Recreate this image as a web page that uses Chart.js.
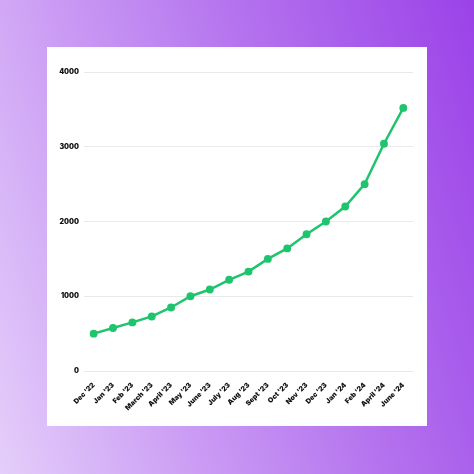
<!DOCTYPE html>
<html>
<head>
<meta charset="utf-8">
<script src="https://cdn.jsdelivr.net/npm/chart.js@4"></script>
<style>
html,body{margin:0;padding:0;width:474px;height:474px;overflow:hidden;}
body{background:linear-gradient(72deg,#e4cefa 0%,#cb9cf4 32%,#b472ee 62%,#9b42e8 100%);position:relative;}
#card{position:absolute;left:47px;top:47px;width:380px;height:379px;background:#fff;}
canvas{display:block;}
</style>
</head>
<body>
<div id="card"><canvas id="c" width="380" height="379"></canvas></div>
<script>
const categories = ["Dec '22","Jan '23","Feb '23","March '23","April '23","May '23","June '23","July '23","Aug '23","Sept '23","Oct '23","Nov '23","Dec '23","Jan '24","Feb '24","April '24","June '24"];
const values = [500,575,650,730,850,1000,1090,1220,1330,1500,1640,1830,2000,2200,2500,3040,3520];
const yTicks = [0,1000,2000,3000,4000];

const font = {family:'Inter', weight:'900', size:7};
new Chart(document.getElementById('c'), {
  type:'line',
  data:{labels:categories, datasets:[{data:values, borderColor:'#1fc46e', backgroundColor:'#1fc46e', borderWidth:2.5, pointRadius:2.7, pointHoverRadius:2.7, tension:0, fill:false}]},
  options:{
    responsive:false, animation:false, devicePixelRatio:1,
    layout:{padding:{left:0,right:14,top:25,bottom:0}},
    plugins:{legend:{display:false}, tooltip:{enabled:false}},
    scales:{
      x:{offset:true, grid:{display:false}, border:{display:false},
         ticks:{color:'#111', font:font, maxRotation:45, minRotation:45, autoSkip:false, padding:2},
         afterFit:s=>{s.height=55;}},
      y:{min:0,max:4000, grid:{color:'#e9e9e9', drawTicks:false}, border:{display:false},
         afterBuildTicks:s=>{s.ticks=yTicks.map(v=>({value:v}));},
         ticks:{color:'#111', font:font, padding:5, callback:v=>String(v)},
         afterFit:s=>{s.width=37;}}
    }
  }
});
</script>
</body>
</html>
